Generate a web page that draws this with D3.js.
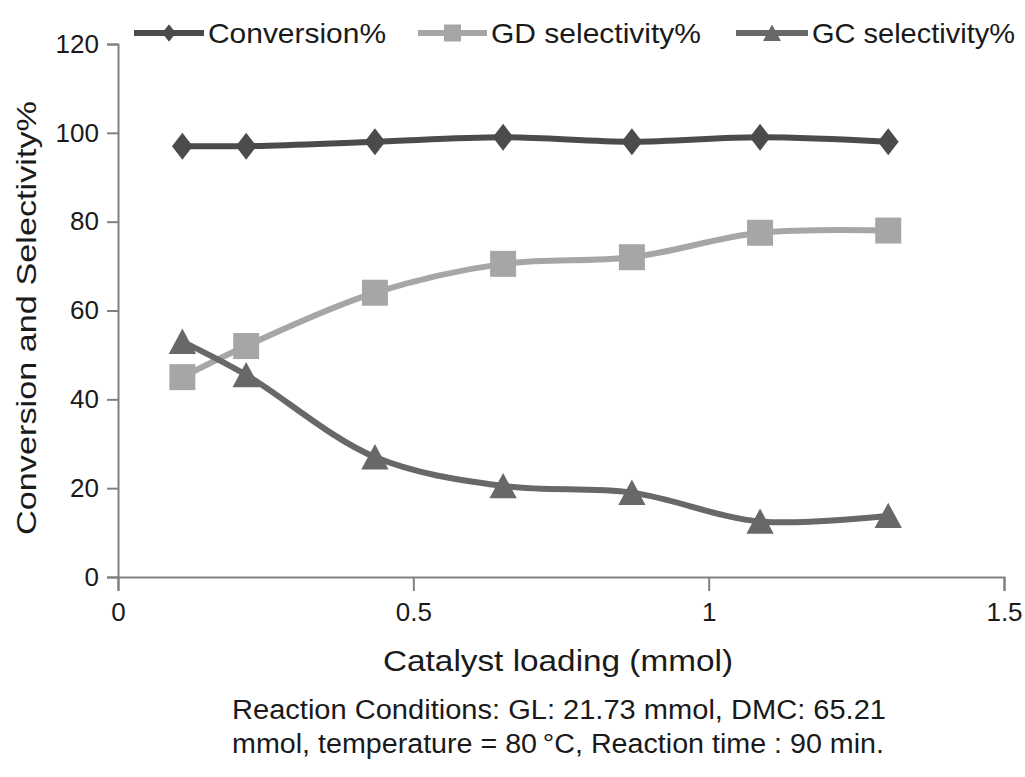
<!DOCTYPE html>
<html>
<head>
<meta charset="utf-8">
<script src="https://cdn.jsdelivr.net/npm/d3@7/dist/d3.min.js"></script>
<style>
  body { margin: 0; background: #fff; }
  text { font-family: "Liberation Sans", Arial, sans-serif; fill: #1a1a1a; }
</style>
</head>
<body>
<div id="chart"></div>
<script>
// catalyst loading (mmol)
const loading = [0.109, 0.217, 0.435, 0.652, 0.870, 1.087, 1.304];
const conversion = [97, 97, 98, 99, 98, 99, 98];
const gdSelectivity = [45, 52, 64, 70.5, 72, 77.5, 78];
const gcSelectivity = [53, 45.5, 27, 20.5, 19, 12.5, 13.8];
const xTicks = [0, 0.5, 1, 1.5];
const yTicks = [0, 20, 40, 60, 80, 100, 120];
const seriesNames = ["Conversion%", "GD selectivity%", "GC selectivity%"];

const width = 1025, height = 777;
const margin = {top: 44, right: 21, bottom: 200, left: 118};

const svg = d3.select("#chart").append("svg")
    .attr("width", width)
    .attr("height", height);

const x = d3.scaleLinear().domain([0, 1.5]).range([margin.left, width - margin.right]);
const y = d3.scaleLinear().domain([0, 120]).range([height - margin.bottom, margin.top]);

// axes
const axisColor = "#808080";
const xAxis = svg.append("g")
    .attr("transform", `translate(0,${y(0)})`)
    .call(d3.axisBottom(x).tickValues(xTicks).tickSize(14).tickPadding(8).tickFormat(d3.format("")));
const yAxis = svg.append("g")
    .attr("transform", `translate(${x(0)},0)`)
    .call(d3.axisLeft(y).tickValues(yTicks).tickSize(11).tickPadding(8));

[xAxis, yAxis].forEach(g => {
    g.select(".domain").attr("stroke", axisColor).attr("stroke-width", 2);
    g.selectAll(".tick line").attr("stroke", axisColor).attr("stroke-width", 2);
    g.selectAll(".tick text")
        .style("font-family", "'Liberation Sans', Arial, sans-serif")
        .style("font-size", "26px")
        .attr("fill", "#1a1a1a");
});
xAxis.selectAll(".tick text").attr("dy", "0.85em");

// series
const series = [
    {name: seriesNames[0], values: conversion, color: "#4b4b4b", marker: "diamond"},
    {name: seriesNames[1], values: gdSelectivity, color: "#a6a6a6", marker: "square"},
    {name: seriesNames[2], values: gcSelectivity, color: "#686868", marker: "triangle"}
];

const line = d3.line()
    .x(d => x(d[0]))
    .y(d => y(d[1]))
    .curve(d3.curveCatmullRom.alpha(0.5));

function markerPath(type, s) {
    if (type === "diamond") {
        const w = s * 0.4, h = s * 0.52;
        return `M0,${-h}L${w},0L0,${h}L${-w},0Z`;
    }
    if (type === "square") {
        const h = s / 2;
        return `M${-h},${-h}H${h}V${h}H${-h}Z`;
    }
    const h = s / 2;
    return `M0,${-h}L${h * 1.05},${h * 0.95}L${-h * 1.05},${h * 0.95}Z`;
}

const markerSize = {diamond: 26, square: 26, triangle: 26};

series.forEach(s => {
    const pts = loading.map((v, i) => [v, s.values[i]]);
    const g = svg.append("g");
    g.append("path")
        .datum(pts)
        .attr("d", line)
        .attr("fill", "none")
        .attr("stroke", s.color)
        .attr("stroke-width", 6)
        .attr("stroke-linejoin", "round");
    g.selectAll("path.pt")
        .data(pts)
        .enter()
        .append("path")
            .attr("class", "pt")
            .attr("transform", d => `translate(${x(d[0])},${y(d[1])})`)
            .attr("d", markerPath(s.marker, markerSize[s.marker]))
            .attr("fill", s.color);
});

// legend
const legendItems = [
    {x0: 134, x1: 204, tx: 208, tw: 178},
    {x0: 418, x1: 487, tx: 491, tw: 210},
    {x0: 736, x1: 808, tx: 812, tw: 203}
];
const legendY = 33;
series.forEach((s, i) => {
    const li = legendItems[i];
    svg.append("line")
        .attr("x1", li.x0).attr("x2", li.x1)
        .attr("y1", legendY).attr("y2", legendY)
        .attr("stroke", s.color).attr("stroke-width", 6);
    svg.append("path")
        .attr("transform", `translate(${(li.x0 + li.x1) / 2},${legendY})`)
        .attr("d", markerPath(s.marker, 17))
        .attr("fill", s.color);
    svg.append("text")
        .attr("x", li.tx).attr("y", legendY + 10)
        .attr("textLength", li.tw)
        .attr("lengthAdjust", "spacingAndGlyphs")
        .style("font-size", "28px")
        .text(s.name);
});

// axis titles
svg.append("text")
    .attr("transform", "translate(36,318) rotate(-90)")
    .attr("text-anchor", "middle")
    .attr("textLength", 434)
    .attr("lengthAdjust", "spacingAndGlyphs")
    .style("font-size", "28px")
    .text("Conversion and Selectivity%");

svg.append("text")
    .attr("x", 558).attr("y", 671)
    .attr("text-anchor", "middle")
    .attr("textLength", 350)
    .attr("lengthAdjust", "spacingAndGlyphs")
    .style("font-size", "30px")
    .text("Catalyst loading (mmol)");

// footnote
const notes = [
    "Reaction Conditions: GL: 21.73 mmol, DMC: 65.21",
    "mmol, temperature = 80\u2009\u00b0C, Reaction time : 90 min."
];
svg.selectAll("text.note")
    .data(notes)
    .enter()
    .append("text")
        .attr("class", "note")
        .attr("x", 232)
        .attr("y", (d, i) => 719 + i * 34)
        .attr("textLength", (d, i) => i === 0 ? 654 : 652)
        .attr("lengthAdjust", "spacingAndGlyphs")
        .style("font-size", "27px")
        .text(d => d);
</script>
</body>
</html>
